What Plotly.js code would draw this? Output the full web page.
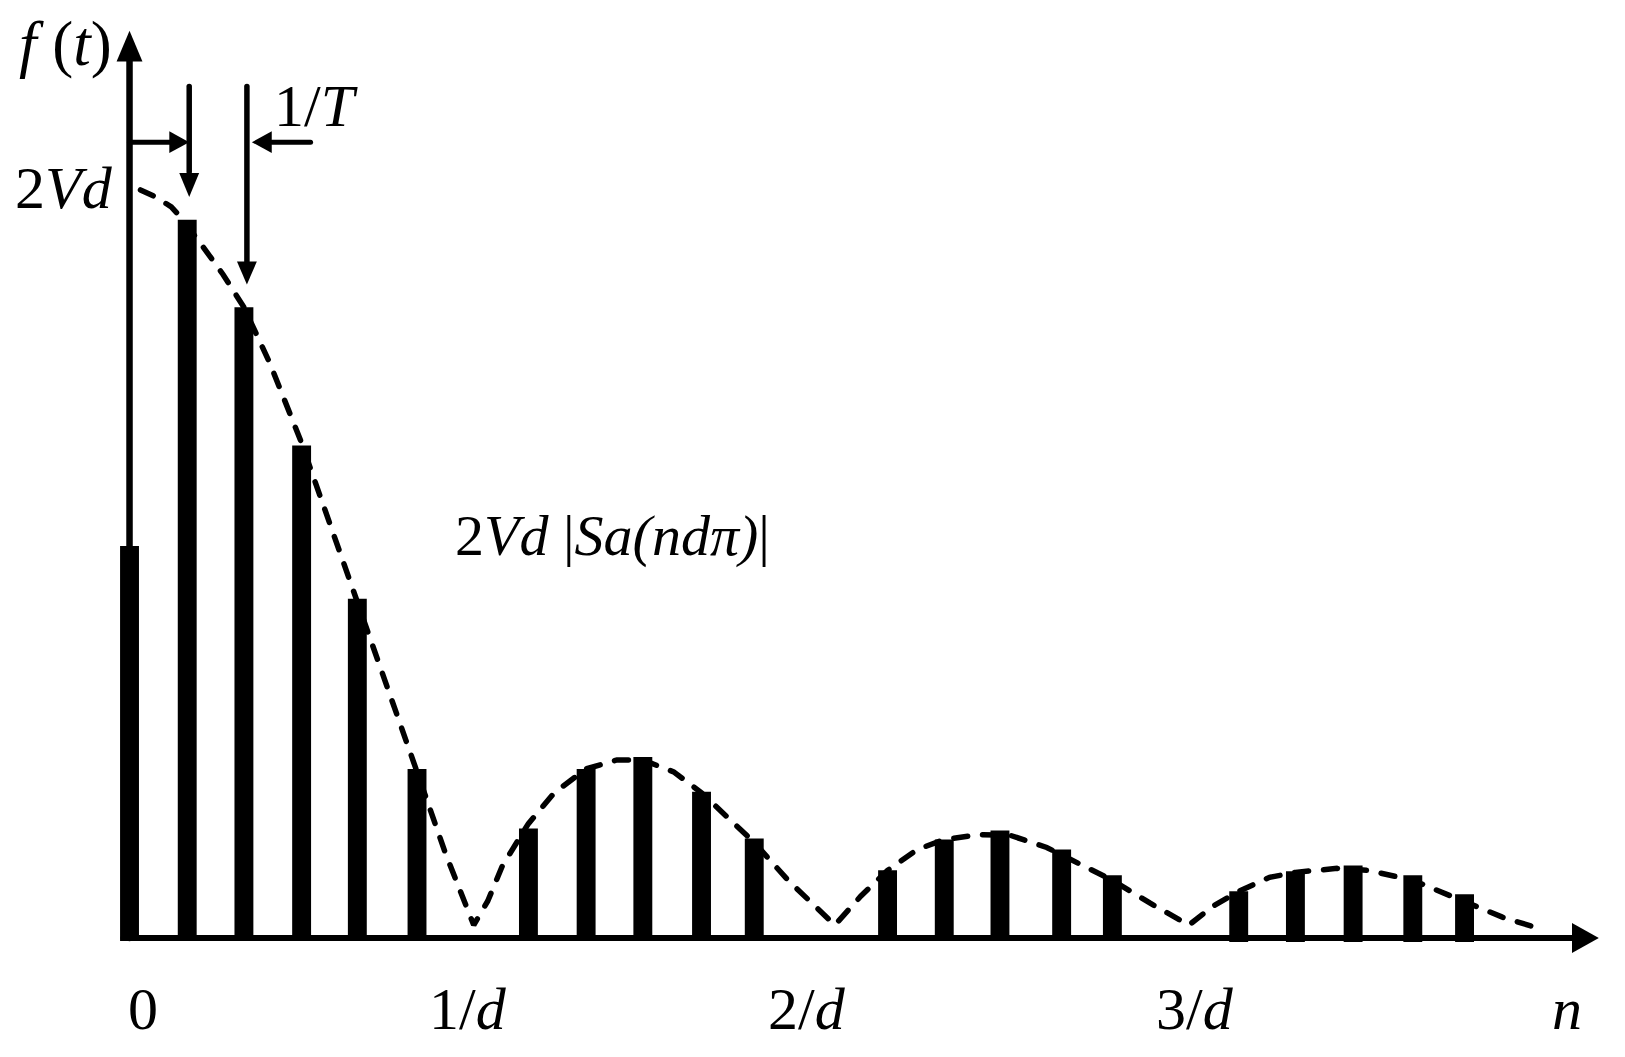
<!DOCTYPE html>
<html><head><meta charset="utf-8">
<script src="https://cdn.plot.ly/plotly-3.0.1.min.js"></script>
<style>html,body{margin:0;padding:0;background:#fff}
.js-line{stroke-linecap:round}
.shapelayer path{stroke-linecap:round}</style></head>
<body><div id="chart" style="width:1625px;height:1057px"></div>
<script>
// Spectral lines: position along the n axis and amplitude (chart units, baseline 0)
const lineX = [0,58,115,173,229,289,401,459,516,575,628,762,819,875,937,988,1115,1172,1230,1290,1342];
const lineAmp = [394,722,634,495,341,170,110,170,182,147,100,68,99,108,89,63,47,67,73,63,44];
const lineBase = [-3,0,0,0,0,0,0,0,0,0,0,0,0,0,0,0,-4,-4,-4,-4,-4];
// Envelope 2Vd|Sa(nd*pi)|
const envX = [11,26,42,52,73,94,115,141,172,203,229,266,289,318,346,360,375,401,427,459,490,516,547,575,628,662,709,735,762,792,819,854,886,922,953,988,1026,1065,1089,1115,1146,1172,1214,1245,1290,1342,1380,1422];
const envY = [752,745,735,724,696,667,634,578,500,412,341,235,167,84,13,37,73,115,146,170,179,179,167,146,96,58,13,42,68,89,99,104,103,91,75,58,35,13,32,47,61,66,70,68,58,37,21,8];
const tickText = ["0","1/<i>d</i>","2/<i>d</i>","3/<i>d</i>","<i>n</i>"];
const tickX = [14,340,681,1071,1445];
const FONT = "'Liberation Serif','Times New Roman',serif";

const tri = (a,b,c)=>`M${a[0]},${a[1]} L${b[0]},${b[1]} L${c[0]},${c[1]} Z`;
const fillShape = p=>({type:'path',path:p,xref:'x',yref:'y',fillcolor:'#000',line:{width:0}});
const seg = (x0,y0,x1,y1,w)=>({type:'line',xref:'x',yref:'y',x0,y0,x1,y1,line:{color:'#000',width:w}});
const shapes = [
  seg(-6,0,1452,0,6), fillShape(tri([1477,0],[1450,15],[1450,-15])),
  seg(0,0,0,885,6.5), fillShape(tri([0,912],[-13,881],[13,881])),
  seg(60,856,60,770,5.5), fillShape(tri([60,745],[50,769],[70,769])),
  seg(118,856,118,680,5.5), fillShape(tri([118,657],[108,680],[128,680])),
  seg(0,800,42,800,5), fillShape(tri([60,800],[40,811],[40,789])),
  seg(182,800,143,800,5), fillShape(tri([123,800],[143,811],[143,789]))
];
const note = (t,x,y,size)=>({text:t,x,y,xref:'x',yref:'y',showarrow:false,xanchor:'center',yanchor:'middle',
  font:{family:FONT,size:size||60,color:'#000'}});
const annotations = tickText.map((t,i)=>note(t,tickX[i],-71));
annotations.push(note("<i>f</i> (<i>t</i>)",-64,899,63));
annotations.push(note("2<i>Vd</i>",-66,754));
annotations.push(note("1/<i>T</i>",187,836));
annotations.push(note("2<i>Vd</i> |<i>Sa</i><i>(ndπ)</i>|",485,405,58));

Plotly.newPlot('chart',[
  {type:'bar',x:lineX,y:lineAmp.map((v,i)=>v-lineBase[i]),base:lineBase,width:19,marker:{color:'#000',line:{width:0}},hoverinfo:'skip'},
  {type:'scatter',mode:'lines',x:envX,y:envY,line:{color:'#000',width:5.5,dash:'14px,15px'},hoverinfo:'skip'}
],{
  width:1625,height:1057,margin:{l:0,r:0,t:0,b:0},showlegend:false,
  paper_bgcolor:'#fff',plot_bgcolor:'#fff',
  xaxis:{range:[-130.2,1503.3],visible:false,fixedrange:true},
  yaxis:{range:[-119.6,942.9],visible:false,fixedrange:true},
  shapes,annotations
},{displayModeBar:false,staticPlot:true});
</script></body></html>
